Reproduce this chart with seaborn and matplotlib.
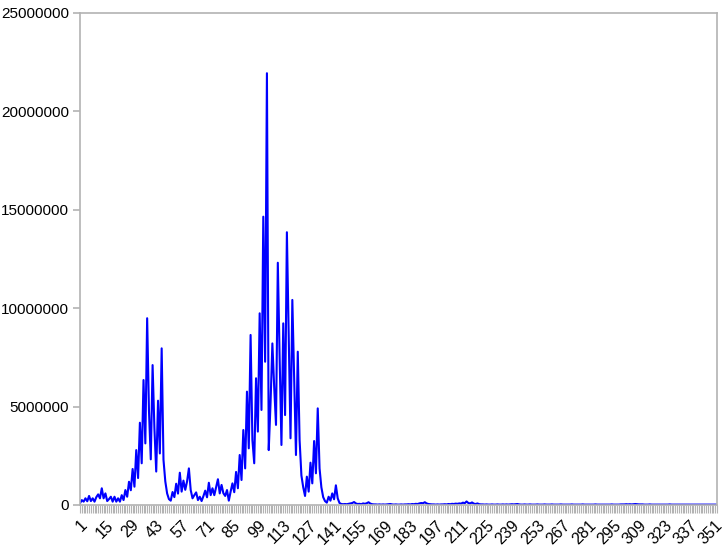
import numpy as np
import matplotlib
matplotlib.use("Agg")
import matplotlib.pyplot as plt
import seaborn as sns

# valores diarios (en millones)
wave_1 = [0.09, 0.25, 0.17, 0.34, 0.19, 0.46, 0.20, 0.34, 0.17, 0.40,
          0.54, 0.34, 0.85, 0.34, 0.59, 0.20, 0.30, 0.42, 0.17, 0.42,
          0.17, 0.34, 0.17, 0.50, 0.25, 0.76, 0.42, 1.18, 0.75, 1.83,
          0.93, 2.79, 1.37, 4.18, 2.12, 6.35, 3.13, 9.49, 4.80, 2.32,
          7.11, 3.90, 1.70, 5.30, 2.62, 7.96, 2.30, 1.20, 0.59, 0.30]
valley = [0.22, 0.66, 0.40, 1.08, 0.58, 1.64, 0.68, 1.24, 0.77, 1.20,
          1.86, 0.76, 0.34, 0.50, 0.64, 0.25, 0.42, 0.20, 0.45, 0.73,
          0.39, 1.13, 0.50, 0.85, 0.50, 0.90, 1.31, 0.59, 1.02, 0.60,
          0.46, 0.76, 0.22, 0.68, 1.10, 0.65, 1.68, 0.85]
wave_2 = [2.54, 1.27, 3.81, 1.86, 5.76, 2.88, 8.64, 3.30, 2.12, 6.44,
          3.73, 9.74, 4.83, 14.65, 7.28, 21.94, 2.79, 5.20, 8.21, 6.00,
          4.07, 12.31, 7.50, 3.05, 9.23, 4.57, 13.86, 8.50, 3.39, 10.42,
          6.40, 2.54, 7.79, 3.30, 1.50, 0.90, 0.46, 1.44, 0.68, 2.15,
          1.10, 3.25, 1.61, 4.91, 1.86, 0.90, 0.40, 0.20, 0.12, 0.42,
          0.22, 0.59, 0.29, 1.00, 0.34, 0.10]
tail = [0.05, 0.04, 0.05, 0.04, 0.06, 0.08,
        0.10, 0.15, 0.08, 0.05, 0.06, 0.04, 0.08, 0.06, 0.09, 0.14,
        0.07, 0.04, 0.03, 0.03, 0.02, 0.03, 0.02, 0.03, 0.02, 0.03,
        0.04, 0.05, 0.03, 0.02, 0.03, 0.02, 0.02, 0.03, 0.02, 0.03,
        0.03, 0.04, 0.03, 0.05, 0.04, 0.06, 0.05, 0.08, 0.10, 0.09,
        0.14, 0.08, 0.05, 0.04, 0.03, 0.03, 0.02, 0.03, 0.02, 0.03,
        0.03, 0.04, 0.03, 0.05, 0.04, 0.06, 0.05, 0.07, 0.06, 0.08,
        0.07, 0.12, 0.09, 0.18, 0.10, 0.08, 0.13, 0.07, 0.05, 0.08,
        0.04, 0.03, 0.03, 0.02, 0.03, 0.02, 0.02, 0.03, 0.02, 0.02,
        0.03, 0.02, 0.02, 0.03, 0.02, 0.03, 0.02, 0.03, 0.04, 0.03,
        0.04, 0.05, 0.03, 0.02, 0.02, 0.03, 0.02, 0.02, 0.03, 0.02,
        0.02, 0.02, 0.03, 0.02, 0.02, 0.02, 0.03, 0.02, 0.02, 0.02,
        0.03, 0.02, 0.02, 0.02, 0.02, 0.03, 0.02, 0.02, 0.02, 0.02,
        0.02, 0.03, 0.02, 0.02, 0.02, 0.02, 0.02, 0.03, 0.02, 0.02,
        0.02, 0.02, 0.02, 0.02, 0.03, 0.02, 0.02, 0.02, 0.02, 0.02,
        0.02, 0.02, 0.02, 0.03, 0.02, 0.02, 0.02, 0.02, 0.03, 0.03,
        0.03, 0.04, 0.03, 0.04, 0.03, 0.04, 0.05, 0.04, 0.03, 0.03,
        0.03, 0.02, 0.02, 0.02, 0.03, 0.02, 0.02, 0.02, 0.02, 0.02,
        0.02, 0.02, 0.02, 0.02, 0.02, 0.03, 0.02, 0.02, 0.02, 0.02,
        0.02, 0.02, 0.02, 0.02, 0.02, 0.02, 0.02, 0.02, 0.02, 0.02,
        0.02, 0.02, 0.02, 0.02, 0.02, 0.02, 0.02, 0.02, 0.02, 0.02,
        0.02, 0.02]

values = np.array(wave_1 + valley + wave_2 + tail) * 1e6
days = np.arange(1, len(values) + 1)

x_labels = [1, 15, 29, 43, 57, 71, 85, 99, 113, 127, 141, 155, 169, 183,
            197, 211, 225, 239, 253, 267, 281, 295, 309, 323, 337, 351]
y_ticks = [0, 5000000, 10000000, 15000000, 20000000, 25000000]

sns.set_style("white")
plt.rcParams["font.family"] = ["Liberation Sans", "DejaVu Sans"]

fig = plt.figure(figsize=(7.25, 5.5), dpi=100)
ax = fig.add_axes([80 / 725, 45 / 550, 637 / 725, 492 / 550])

sns.lineplot(x=days, y=values, color="#0000ff", linewidth=1.5, ax=ax)

ax.set_xlim(1, len(values))
ax.set_ylim(0, 25000000)
ax.set_yticks(y_ticks)
ax.set_yticklabels([str(v) for v in y_ticks], fontsize=11, color="black")

# marcas en cada dia, etiqueta cada 14
ax.set_xticks(days)
ax.set_xticklabels([str(d) if d in x_labels else "" for d in days],
                   rotation=45, ha="right", rotation_mode="anchor",
                   fontsize=11.5, color="black")

gris = "#b3b3b3"
for s in ax.spines.values():
    s.set_color(gris)
    s.set_linewidth(1.2)
ax.tick_params(axis="x", bottom=True, direction="out", length=6, width=0.8,
               color=gris, pad=3)
ax.tick_params(axis="y", left=True, direction="out", length=5, width=1.2,
               color=gris, pad=3)
ax.set_xlabel("")
ax.set_ylabel("")
ax.grid(False)

fig.savefig("out.png", dpi=100)
